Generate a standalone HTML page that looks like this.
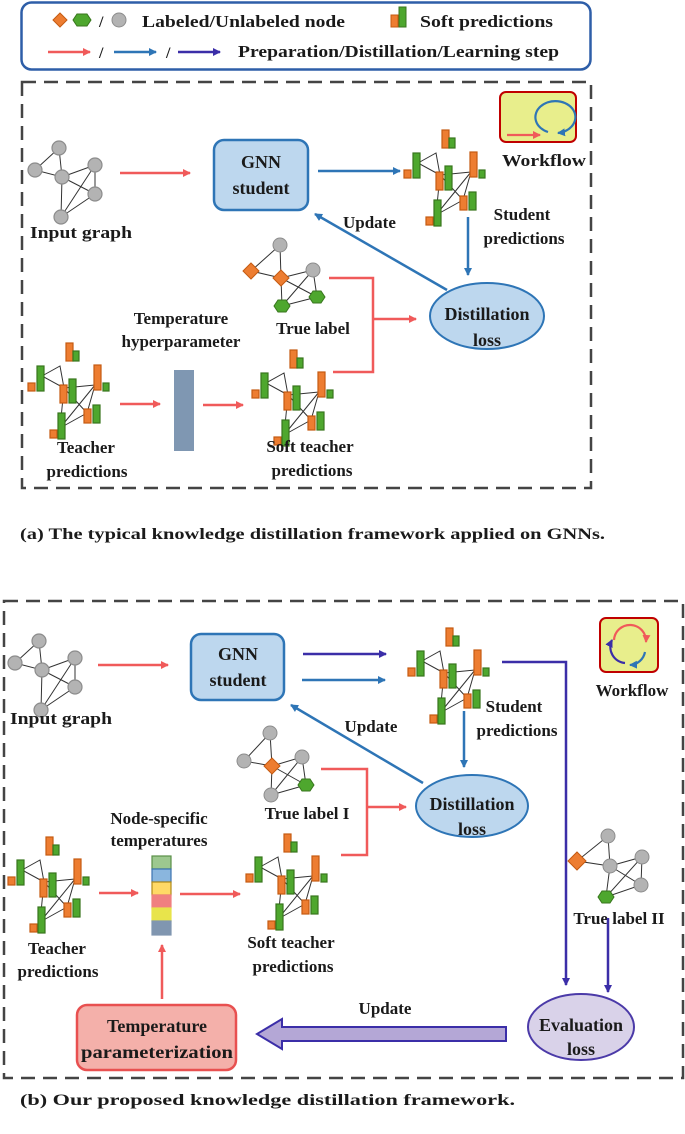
<!DOCTYPE html>
<html><head><meta charset="utf-8"><style>
html,body{margin:0;padding:0;background:#fff;}
svg{display:block;}
text{font-family:"Liberation Serif",serif;font-weight:bold;fill:#1a1a1a;}
</style></head><body>
<svg width="685" height="1134" viewBox="0 0 685 1134" xmlns="http://www.w3.org/2000/svg">
<defs>
<marker id="ar" markerWidth="8" markerHeight="8" refX="7" refY="4" orient="auto" markerUnits="userSpaceOnUse"><path d="M0,0 L8,4 L0,8 Z" fill="#f05a5a"/></marker>
<marker id="ab" markerWidth="8" markerHeight="8" refX="7" refY="4" orient="auto" markerUnits="userSpaceOnUse"><path d="M0,0 L8,4 L0,8 Z" fill="#2e75b6"/></marker>
<marker id="ap" markerWidth="8" markerHeight="8" refX="7" refY="4" orient="auto" markerUnits="userSpaceOnUse"><path d="M0,0 L8,4 L0,8 Z" fill="#3b2ea8"/></marker>
<g id="pg">
<g stroke="#333" stroke-width="1" fill="none">
<path d="M18,43 L36,33 L40,55 Z M40,55 L71,52 M40,55 L36,95 M40,55 L63,80 M71,52 L36,95 M71,52 L63,80 M36,95 L63,80"/>
</g>
<g stroke-width="1.2">
<rect x="4" y="50" width="7" height="8" fill="#ed7d31" stroke="#c55a11"/><rect x="13" y="33" width="7" height="25" fill="#4ea72e" stroke="#38761d"/>
<rect x="42" y="10" width="7" height="18" fill="#ed7d31" stroke="#c55a11"/><rect x="49" y="18" width="6" height="10" fill="#4ea72e" stroke="#38761d"/>
<rect x="36" y="52" width="7" height="18" fill="#ed7d31" stroke="#c55a11"/><rect x="45" y="46" width="7" height="24" fill="#4ea72e" stroke="#38761d"/>
<rect x="70" y="32" width="7" height="25" fill="#ed7d31" stroke="#c55a11"/><rect x="79" y="50" width="6" height="8" fill="#4ea72e" stroke="#38761d"/>
<rect x="60" y="76" width="7" height="14" fill="#ed7d31" stroke="#c55a11"/><rect x="69" y="72" width="7" height="18" fill="#4ea72e" stroke="#38761d"/>
<rect x="26" y="97" width="7" height="8" fill="#ed7d31" stroke="#c55a11"/><rect x="34" y="80" width="7" height="26" fill="#4ea72e" stroke="#38761d"/>
</g>
</g>
<g id="ig">
<g stroke="#333" stroke-width="1" fill="none"><path d="M24,0 L0,22 L27,29 Z M27,29 L60,17 M27,29 L26,69 M27,29 L60,46 M60,17 L26,69 M60,17 L60,46 M26,69 L60,46"/></g>
<g fill="#b3b3b3" stroke="#8c8c8c" stroke-width="1.2"><circle cx="24" cy="0" r="7"/><circle cx="0" cy="22" r="7"/><circle cx="27" cy="29" r="7"/><circle cx="60" cy="17" r="7"/><circle cx="60" cy="46" r="7"/><circle cx="26" cy="69" r="7"/></g>
</g>
</defs>

<!-- Legend -->
<rect x="21.5" y="2.5" width="569" height="67" rx="10" fill="#fff" stroke="#2e5ea8" stroke-width="2.5"/>
<path d="M60,13 L67,20 L60,27 L53,20 Z" fill="#ed7d31" stroke="#c55a11"/>
<path d="M77,14 L87,14 L91,20 L87,26 L77,26 L73,20 Z" fill="#4ea72e" stroke="#38761d"/>
<text x="99" y="27" font-size="16">/</text>
<circle cx="119" cy="20" r="7" fill="#b3b3b3" stroke="#8c8c8c"/>
<text x="142" y="27" font-size="17" textLength="203" lengthAdjust="spacingAndGlyphs">Labeled/Unlabeled node</text>
<rect x="391" y="15" width="7" height="12" fill="#ed7d31" stroke="#c55a11"/><rect x="399" y="7" width="7" height="20" fill="#4ea72e" stroke="#38761d"/>
<text x="420" y="27" font-size="17" textLength="133" lengthAdjust="spacingAndGlyphs">Soft predictions</text>
<line x1="48" y1="52" x2="90" y2="52" stroke="#f05a5a" stroke-width="2.5" marker-end="url(#ar)"/>
<text x="99" y="58" font-size="16">/</text>
<line x1="114" y1="52" x2="156" y2="52" stroke="#2e75b6" stroke-width="2.5" marker-end="url(#ab)"/>
<text x="166" y="58" font-size="16">/</text>
<line x1="178" y1="52" x2="220" y2="52" stroke="#3b2ea8" stroke-width="2.5" marker-end="url(#ap)"/>
<text x="238" y="57" font-size="17" textLength="321" lengthAdjust="spacingAndGlyphs">Preparation/Distillation/Learning step</text>

<!-- (a) -->
<rect x="22" y="82" width="569" height="406" fill="none" stroke="#444" stroke-width="2.5" stroke-dasharray="14,8"/>
<use href="#ig" x="35" y="148"/>
<text x="30" y="238" font-size="17" textLength="102" lengthAdjust="spacingAndGlyphs">Input graph</text>
<line x1="120" y1="173" x2="190" y2="173" stroke="#f05a5a" stroke-width="2.5" marker-end="url(#ar)"/>
<rect x="214" y="140" width="94" height="70" rx="10" fill="#bdd7ee" stroke="#2e75b6" stroke-width="2.5"/>
<text x="261" y="168" font-size="18" text-anchor="middle">GNN</text>
<text x="261" y="194" font-size="18" text-anchor="middle">student</text>
<line x1="318" y1="171" x2="400" y2="171" stroke="#2e75b6" stroke-width="2.5" marker-end="url(#ab)"/>
<use href="#pg" x="400" y="120"/>
<rect x="500" y="92" width="76" height="50" rx="6" fill="#e8ee8c" stroke="#c00000" stroke-width="2"/>
<path d="M548,132 A20,16 0 1 1 558,133" fill="none" stroke="#2e75b6" stroke-width="2.2" marker-end="url(#ab)"/>
<line x1="507" y1="135" x2="540" y2="135" stroke="#f05a5a" stroke-width="2.2" marker-end="url(#ar)"/>
<text x="502" y="166" font-size="17" textLength="84" lengthAdjust="spacingAndGlyphs">Workflow</text>
<text x="522" y="220" font-size="17" text-anchor="middle">Student</text>
<text x="524" y="244" font-size="17" text-anchor="middle">predictions</text>
<text x="343" y="228" font-size="17">Update</text>
<line x1="447" y1="290" x2="315" y2="214" stroke="#2e75b6" stroke-width="2.5" marker-end="url(#ab)"/>
<line x1="468" y1="217" x2="468" y2="275" stroke="#2e75b6" stroke-width="2.5" marker-end="url(#ab)"/>
<ellipse cx="487" cy="316" rx="57" ry="33" fill="#bdd7ee" stroke="#2e75b6" stroke-width="2"/>
<text x="487" y="320" font-size="18" text-anchor="middle">Distillation</text>
<text x="487" y="346" font-size="18" text-anchor="middle">loss</text>
<!-- true label -->
<g stroke="#333" stroke-width="1" fill="none"><path d="M280,245 L251,271 L281,278 Z M281,278 L313,270 M281,278 L282,306 M281,278 L317,297 M313,270 L282,306 M313,270 L317,297 M282,306 L317,297"/></g>
<circle cx="280" cy="245" r="7" fill="#b3b3b3" stroke="#8c8c8c"/><circle cx="313" cy="270" r="7" fill="#b3b3b3" stroke="#8c8c8c"/>
<path d="M251,263 L259,271 L251,279 L243,271 Z" fill="#ed7d31" stroke="#c55a11"/>
<path d="M281,270 L289,278 L281,286 L273,278 Z" fill="#ed7d31" stroke="#c55a11"/>
<path d="M278,300 L286,300 L290,306 L286,312 L278,312 L274,306 Z" fill="#4ea72e" stroke="#38761d"/>
<path d="M313,291 L321,291 L325,297 L321,303 L313,303 L309,297 Z" fill="#4ea72e" stroke="#38761d"/>
<text x="313" y="334" font-size="17" text-anchor="middle">True label</text>
<path d="M329,278 L373,278 L373,372 L333,372" fill="none" stroke="#f05a5a" stroke-width="2.5"/>
<line x1="373" y1="319" x2="416" y2="319" stroke="#f05a5a" stroke-width="2.5" marker-end="url(#ar)"/>
<text x="181" y="324" font-size="17" text-anchor="middle">Temperature</text>
<text x="181" y="347" font-size="17" text-anchor="middle">hyperparameter</text>
<use href="#pg" x="24" y="333"/>
<text x="86" y="453" font-size="17" text-anchor="middle">Teacher</text>
<text x="87" y="477" font-size="17" text-anchor="middle">predictions</text>
<line x1="120" y1="404" x2="160" y2="404" stroke="#f05a5a" stroke-width="2.5" marker-end="url(#ar)"/>
<rect x="174" y="370" width="20" height="81" fill="#7f97b2"/>
<line x1="203" y1="405" x2="243" y2="405" stroke="#f05a5a" stroke-width="2.5" marker-end="url(#ar)"/>
<use href="#pg" x="248" y="340"/>
<text x="310" y="452" font-size="17" text-anchor="middle">Soft teacher</text>
<text x="312" y="476" font-size="17" text-anchor="middle">predictions</text>
<text x="20" y="539" font-size="16" textLength="585" lengthAdjust="spacingAndGlyphs">(a) The typical knowledge distillation framework applied on GNNs.</text>

<!-- (b) -->
<rect x="4" y="601" width="679" height="477" fill="none" stroke="#444" stroke-width="2.5" stroke-dasharray="14,8"/>
<use href="#ig" x="15" y="641" transform="translate(0,0)"/>
<text x="10" y="724" font-size="17" textLength="102" lengthAdjust="spacingAndGlyphs">Input graph</text>
<line x1="98" y1="665" x2="168" y2="665" stroke="#f05a5a" stroke-width="2.5" marker-end="url(#ar)"/>
<rect x="191" y="634" width="93" height="66" rx="10" fill="#bdd7ee" stroke="#2e75b6" stroke-width="2.5"/>
<text x="238" y="660" font-size="18" text-anchor="middle">GNN</text>
<text x="238" y="686" font-size="18" text-anchor="middle">student</text>
<line x1="303" y1="654" x2="386" y2="654" stroke="#3b2ea8" stroke-width="2.5" marker-end="url(#ap)"/>
<line x1="302" y1="680" x2="385" y2="680" stroke="#2e75b6" stroke-width="2.5" marker-end="url(#ab)"/>
<use href="#pg" x="404" y="618"/>
<path d="M502,662 L566,662 L566,985" fill="none" stroke="#3b2ea8" stroke-width="2.5" marker-end="url(#ap)"/>
<rect x="600" y="618" width="58" height="54" rx="6" fill="#e8ee8c" stroke="#c00000" stroke-width="2"/>
<path d="M614,640 A16,16 0 0 1 646,642" fill="none" stroke="#f05a5a" stroke-width="2.2" marker-end="url(#ar)"/>
<path d="M645,652 A16,16 0 0 1 630,665" fill="none" stroke="#2e75b6" stroke-width="2.2" marker-end="url(#ab)"/>
<path d="M625,663 A16,16 0 0 1 612,640" fill="none" stroke="#3b2ea8" stroke-width="2.2" marker-end="url(#ap)"/>
<text x="632" y="696" font-size="17" text-anchor="middle">Workflow</text>
<text x="514" y="712" font-size="17" text-anchor="middle">Student</text>
<text x="517" y="736" font-size="17" text-anchor="middle">predictions</text>
<text x="371" y="732" font-size="17" text-anchor="middle">Update</text>
<line x1="423" y1="783" x2="291" y2="705" stroke="#2e75b6" stroke-width="2.5" marker-end="url(#ab)"/>
<line x1="464" y1="711" x2="464" y2="767" stroke="#2e75b6" stroke-width="2.5" marker-end="url(#ab)"/>
<ellipse cx="472" cy="806" rx="56" ry="31" fill="#bdd7ee" stroke="#2e75b6" stroke-width="2"/>
<text x="472" y="810" font-size="18" text-anchor="middle">Distillation</text>
<text x="472" y="835" font-size="18" text-anchor="middle">loss</text>
<!-- true label I -->
<g stroke="#333" stroke-width="1" fill="none"><path d="M270,733 L244,761 L272,766 Z M272,766 L302,757 M272,766 L271,795 M272,766 L306,785 M302,757 L271,795 M302,757 L306,785 M271,795 L306,785"/></g>
<g fill="#b3b3b3" stroke="#8c8c8c"><circle cx="270" cy="733" r="7"/><circle cx="244" cy="761" r="7"/><circle cx="302" cy="757" r="7"/><circle cx="271" cy="795" r="7"/></g>
<path d="M272,758 L280,766 L272,774 L264,766 Z" fill="#ed7d31" stroke="#c55a11"/>
<path d="M302,779 L310,779 L314,785 L310,791 L302,791 L298,785 Z" fill="#4ea72e" stroke="#38761d"/>
<text x="307" y="819" font-size="17" text-anchor="middle">True label I</text>
<path d="M321,769 L367,769 L367,855 L341,855" fill="none" stroke="#f05a5a" stroke-width="2.5"/>
<line x1="367" y1="807" x2="406" y2="807" stroke="#f05a5a" stroke-width="2.5" marker-end="url(#ar)"/>
<text x="159" y="824" font-size="17" text-anchor="middle">Node-specific</text>
<text x="159" y="846" font-size="17" text-anchor="middle">temperatures</text>
<g stroke-width="1.2">
<rect x="152" y="856" width="19" height="13" fill="#9dc88f" stroke="#5a8f48"/>
<rect x="152" y="869" width="19" height="13" fill="#8ab6de" stroke="#3c73b0"/>
<rect x="152" y="882" width="19" height="13" fill="#ffd966" stroke="#b08a1a"/>
<rect x="152" y="895" width="19" height="13" fill="#f08080" stroke="#f08080"/>
<rect x="152" y="908" width="19" height="13" fill="#e8e44b" stroke="#e8e44b"/>
<rect x="152" y="921" width="19" height="14" fill="#8096b0" stroke="#8096b0"/>
</g>
<use href="#pg" x="4" y="827"/>
<text x="57" y="954" font-size="17" text-anchor="middle">Teacher</text>
<text x="58" y="977" font-size="17" text-anchor="middle">predictions</text>
<line x1="99" y1="893" x2="138" y2="893" stroke="#f05a5a" stroke-width="2.5" marker-end="url(#ar)"/>
<line x1="180" y1="894" x2="240" y2="894" stroke="#f05a5a" stroke-width="2.5" marker-end="url(#ar)"/>
<use href="#pg" x="242" y="824"/>
<text x="291" y="948" font-size="17" text-anchor="middle">Soft teacher</text>
<text x="293" y="972" font-size="17" text-anchor="middle">predictions</text>
<line x1="162" y1="999" x2="162" y2="945" stroke="#f05a5a" stroke-width="2.5" marker-end="url(#ar)"/>
<rect x="77" y="1005" width="159" height="65" rx="10" fill="#f4b0aa" stroke="#e85050" stroke-width="2.5"/>
<text x="157" y="1032" font-size="18" text-anchor="middle">Temperature</text>
<text x="157" y="1058" font-size="18" text-anchor="middle" textLength="152" lengthAdjust="spacingAndGlyphs">parameterization</text>
<text x="385" y="1014" font-size="17" text-anchor="middle">Update</text>
<path d="M506,1027 L282,1027 L282,1019 L257,1034 L282,1049 L282,1041 L506,1041 Z" fill="#b4a7d6" stroke="#3b2ea8" stroke-width="2"/>
<!-- true label II -->
<g stroke="#333" stroke-width="1" fill="none"><path d="M608,836 L577,861 L610,866 Z M610,866 L642,857 M610,866 L606,897 M610,866 L641,885 M642,857 L606,897 M642,857 L641,885 M606,897 L641,885"/></g>
<g fill="#b3b3b3" stroke="#8c8c8c"><circle cx="608" cy="836" r="7"/><circle cx="610" cy="866" r="7"/><circle cx="642" cy="857" r="7"/><circle cx="641" cy="885" r="7"/></g>
<path d="M577,852 L586,861 L577,870 L568,861 Z" fill="#ed7d31" stroke="#c55a11"/>
<path d="M602,891 L610,891 L614,897 L610,903 L602,903 L598,897 Z" fill="#4ea72e" stroke="#38761d"/>
<text x="619" y="924" font-size="17" text-anchor="middle">True label II</text>
<line x1="608" y1="918" x2="608" y2="992" stroke="#3b2ea8" stroke-width="2.5" marker-end="url(#ap)"/>
<ellipse cx="581" cy="1027" rx="53" ry="33" fill="#d9d2e9" stroke="#4b3aa8" stroke-width="2"/>
<text x="581" y="1031" font-size="18" text-anchor="middle">Evaluation</text>
<text x="581" y="1055" font-size="18" text-anchor="middle">loss</text>
<text x="20" y="1105" font-size="16" textLength="495" lengthAdjust="spacingAndGlyphs">(b) Our proposed knowledge distillation framework.</text>
</svg>
</body></html>
